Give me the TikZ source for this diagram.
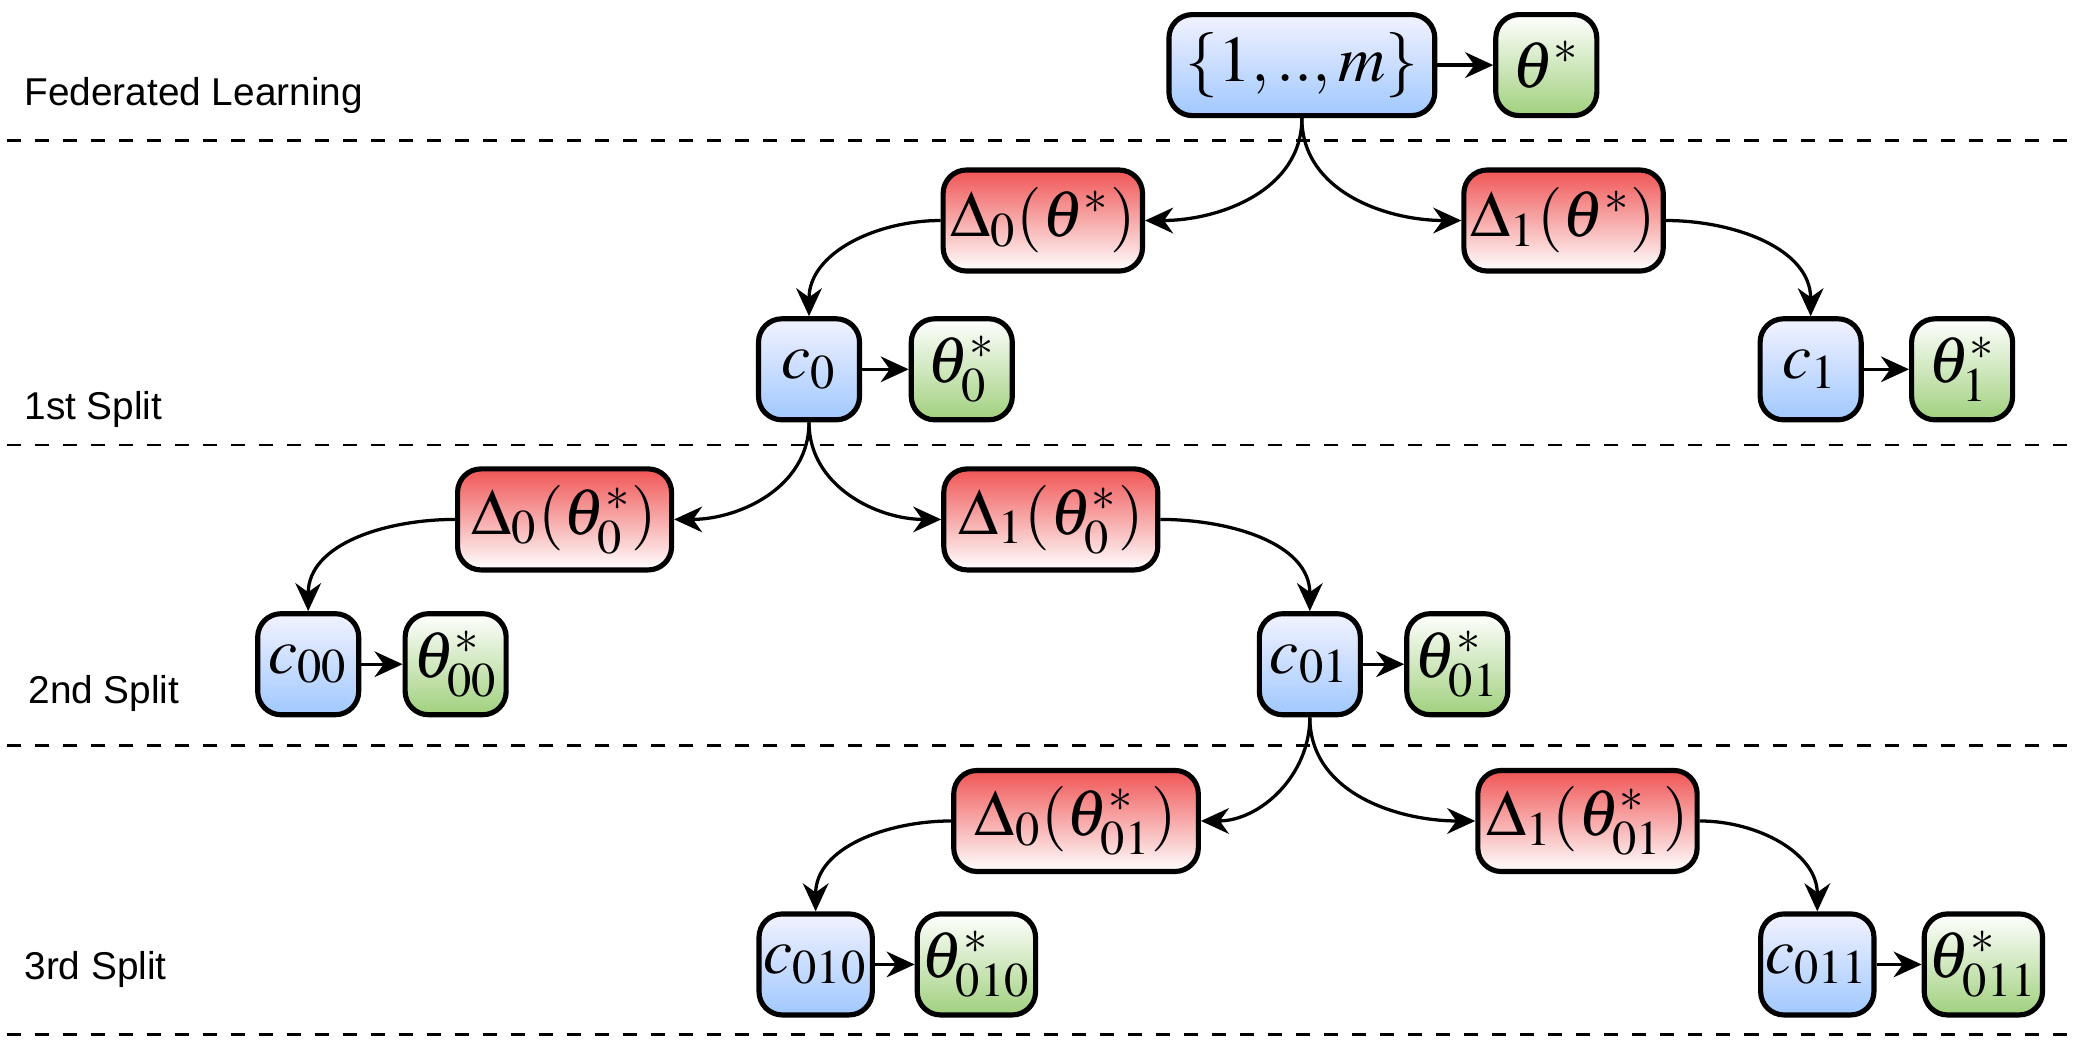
\documentclass[tikz,border=0pt]{standalone}
\usepackage{mathptmx}
\usepackage{fontspec}
\newfontfamily\lab{Liberation Sans}
\usetikzlibrary{arrows.meta}
\begin{document}
\begin{tikzpicture}[x=0.01cm,y=-0.01cm,
 bx/.style={draw=black,line width=1.1pt,rounded corners=5pt,minimum height=0.76cm,inner sep=1pt,font=\fontsize{14}{16}\selectfont},
 bl/.style={bx,top color=white!95!blue,bottom color={rgb,255:red,160;green,200;blue,255}},
 gr/.style={bx,top color=white,bottom color={rgb,255:red,160;green,208;blue,125}},
 rd/.style={bx,top color={rgb,255:red,240;green,85;blue,85},bottom color=white},
 ar/.style={-{Stealth[length=6pt,width=5.5pt]},line width=0.7pt},
 dl/.style={dashed,line width=0.6pt},
 lb/.style={anchor=west,font=\lab\fontsize{8.3}{10}\selectfont}]
\useasboundingbox (0,0) rectangle (1568,800);
\foreach \y in {106,335,561,779} \draw[dl] (5,\y) -- (1565,\y);
\node[lb] (l0) at (6,72) {Federated Learning};
\node[lb] (l1) at (6,308) {1st Split};
\node[lb] (l2) at (9,522) {2nd Split};
\node[lb] (l3) at (6,730) {3rd Split};
\node[bl,minimum width=2.0cm] (t) at (980,49) {$\{1,..,m\}$};
\node[gr,minimum width=0.76cm] (tt) at (1164,49) {$\theta^*$};
\node[rd,minimum width=1.5cm] (a0) at (785,166) {$\Delta_0(\theta^*)$};
\node[rd,minimum width=1.5cm] (a1) at (1177,166) {$\Delta_1(\theta^*)$};
\node[bl,minimum width=0.76cm] (c0) at (609,278) {$c_0$};
\node[gr,minimum width=0.76cm] (t0) at (724,278) {$\theta^*_0$};
\node[bl,minimum width=0.76cm] (c1) at (1363,278) {$c_1$};
\node[gr,minimum width=0.76cm] (t1) at (1477,278) {$\theta^*_1$};
\node[rd,minimum width=1.61cm] (b0) at (425,391) {$\Delta_0(\theta^*_0)$};
\node[rd,minimum width=1.61cm] (b1) at (791,391) {$\Delta_1(\theta^*_0)$};
\node[bl,minimum width=0.76cm] (c00) at (232,500) {$c_{00}$};
\node[gr,minimum width=0.76cm] (t00) at (343,500) {$\theta^*_{00}$};
\node[bl,minimum width=0.76cm] (c01) at (986,500) {$c_{01}$};
\node[gr,minimum width=0.76cm] (t01) at (1097,500) {$\theta^*_{01}$};
\node[rd,minimum width=1.84cm] (d0) at (810,618) {$\Delta_0(\theta^*_{01})$};
\node[rd,minimum width=1.65cm] (d1) at (1195,618) {$\Delta_1(\theta^*_{01})$};
\node[bl,minimum width=0.83cm] (c010) at (614,726) {$c_{010}$};
\node[gr,minimum width=0.85cm] (t010) at (735,726) {$\theta^*_{010}$};
\node[bl,minimum width=0.83cm] (c011) at (1368,726) {$c_{011}$};
\node[gr,minimum width=0.85cm] (t011) at (1493,726) {$\theta^*_{011}$};
\draw[ar] (t) -- (tt);
\draw[ar] (c0) -- (t0);
\draw[ar] (c1) -- (t1);
\draw[ar] (c00) -- (t00);
\draw[ar] (c01) -- (t01);
\draw[ar] (c010) -- (t010);
\draw[ar] (c011) -- (t011);
\draw[ar] (t.south) to[out=-90,in=0] (a0.east);
\draw[ar] (t.south) to[out=-90,in=180] (a1.west);
\draw[ar] (a0.west) to[out=180,in=90] (c0.north);
\draw[ar] (a1.east) to[out=0,in=90] (c1.north);
\draw[ar] (c0.south) to[out=-90,in=0] (b0.east);
\draw[ar] (c0.south) to[out=-90,in=180] (b1.west);
\draw[ar] (b0.west) to[out=180,in=90] (c00.north);
\draw[ar] (b1.east) to[out=0,in=90] (c01.north);
\draw[ar] (c01.south) to[out=-90,in=0] (d0.east);
\draw[ar] (c01.south) to[out=-90,in=180] (d1.west);
\draw[ar] (d0.west) to[out=180,in=90] (c010.north);
\draw[ar] (d1.east) to[out=0,in=90] (c011.north);
\end{tikzpicture}
\end{document}
